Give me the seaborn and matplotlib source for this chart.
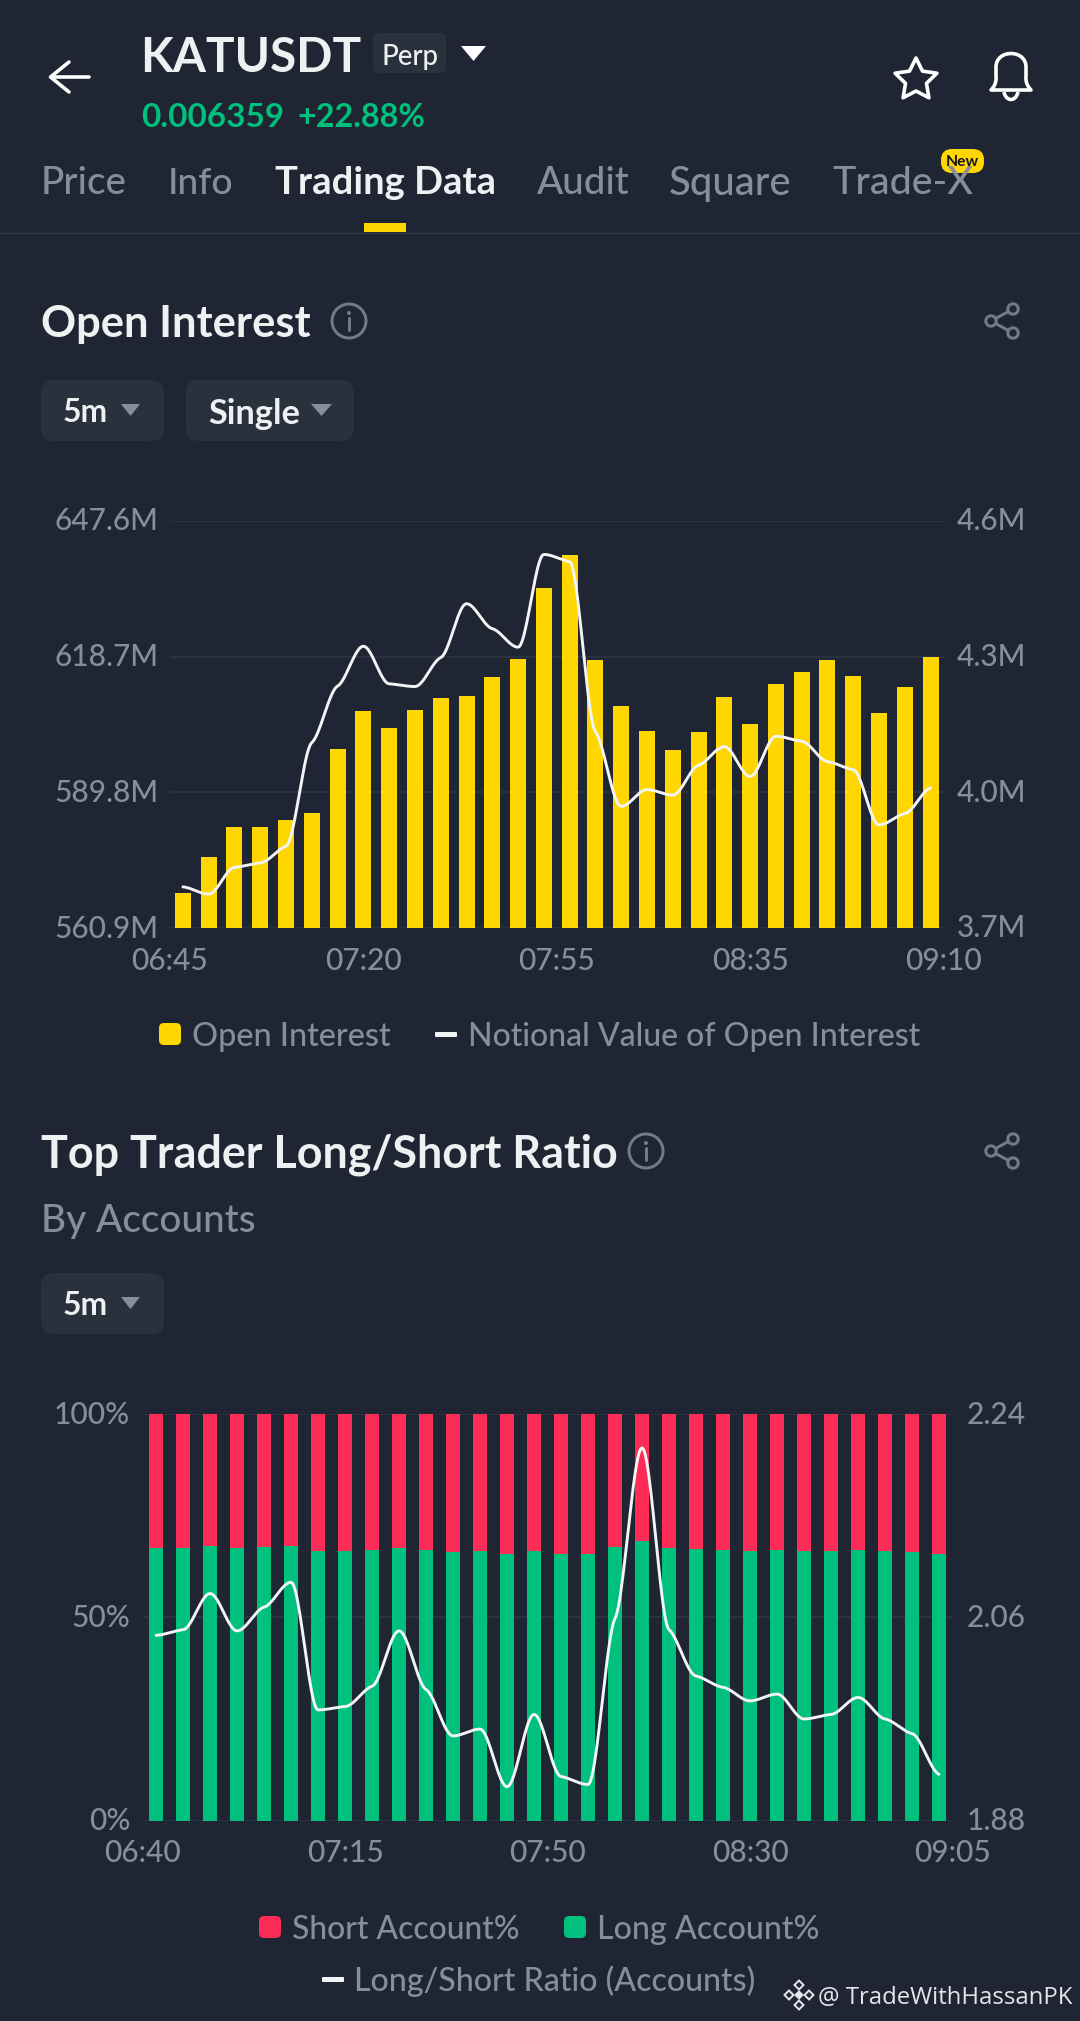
import numpy as np
import matplotlib
matplotlib.use("Agg")
import matplotlib.pyplot as plt
from matplotlib.patches import FancyBboxPatch, Polygon, Circle, PathPatch
from matplotlib.path import Path
from matplotlib.transforms import ScaledTranslation
import seaborn as sns

# ---------- data ----------
oi_times = ["06:45", "07:20", "07:55", "08:35", "09:10"]
oi_left_ticks = [560.9, 589.8, 618.7, 647.6]
oi_left_labels = ["560.9M", "589.8M", "618.7M", "647.6M"]
oi_right_ticks = [3.7, 4.0, 4.3, 4.6]
oi_right_labels = ["3.7M", "4.0M", "4.3M", "4.6M"]
open_interest = [568.3, 576.1, 582.4, 582.5, 583.9, 585.4, 599.1, 607.2, 603.4, 607.4,
                 609.9, 610.3, 614.3, 618.1, 633.3, 640.4, 618.0, 608.2, 602.9, 598.9,
                 602.7, 610.1, 604.3, 612.9, 615.5, 617.9, 614.6, 606.7, 612.3, 618.7]
notional = [3.791, 3.775, 3.834, 3.844, 3.881, 4.110, 4.235, 4.323, 4.240, 4.234,
            4.298, 4.417, 4.362, 4.321, 4.526, 4.510, 4.134, 3.969, 4.006, 3.994,
            4.060, 4.101, 4.035, 4.124, 4.113, 4.068, 4.050, 3.928, 3.953, 4.010]

ls_times = ["06:40", "07:15", "07:50", "08:30", "09:05"]
ls_left_ticks = [0, 50, 100]
ls_left_labels = ["0%", "50%", "100%"]
ls_right_ticks = [1.88, 2.06, 2.24]
ls_right_labels = ["1.88", "2.06", "2.24"]
long_pct = [67.0, 67.1, 67.5, 67.0, 67.3, 67.6, 66.4, 66.4, 66.6, 67.0,
            66.6, 66.0, 66.2, 65.6, 66.3, 65.6, 65.6, 67.3, 68.8, 67.1,
            66.7, 66.6, 66.4, 66.5, 66.3, 66.3, 66.5, 66.3, 66.0, 65.6]
short_pct = [33.0, 32.9, 32.5, 33.0, 32.7, 32.4, 33.6, 33.6, 33.4, 33.0,
             33.4, 34.0, 33.8, 34.4, 33.7, 34.4, 34.4, 32.7, 31.2, 32.9,
             33.3, 33.4, 33.6, 33.5, 33.7, 33.7, 33.5, 33.7, 34.0, 34.4]
ls_ratio = [2.044, 2.049, 2.081, 2.048, 2.069, 2.091, 1.978, 1.981, 1.999, 2.048,
            1.996, 1.955, 1.961, 1.910, 1.974, 1.919, 1.912, 2.059, 2.210, 2.049,
            2.008, 1.998, 1.986, 1.992, 1.970, 1.974, 1.989, 1.970, 1.957, 1.921]

# ---------- style ----------
BG = "#1f2532"
GRID = "#2f3744"
GRAY = "#868e9b"
WHITE = "#eef0f2"
YELLOW = "#ffd600"
RED = "#fd2c56"
GREEN = "#00c07e"
CHIP = "#29313d"
LIGHT = "#f2f4f6"
FONT = "Lato"
MED = 500
SEMI = "bold"

sns.set_theme(style="dark", rc={"figure.facecolor": BG, "axes.facecolor": BG})
plt.rcParams["font.family"] = [FONT, "DejaVu Sans"]

W, H = 1080, 2021
fig = plt.figure(figsize=(W / 100, H / 100), dpi=100, facecolor=BG)


def px_axes(x0, x1, y_top, y_bottom, **kw):
    return fig.add_axes([x0 / W, 1 - y_bottom / H, (x1 - x0) / W, (y_bottom - y_top) / H], **kw)


def smooth(y, k=0.3, n=24):
    """Draw-time curve through the values (flat at turning points, knees between them)."""
    y = np.asarray(y, float)
    d = np.diff(y)
    m = np.zeros_like(y)
    for i in range(1, len(y) - 1):
        if d[i - 1] * d[i] > 0:
            m[i] = k * 2 * d[i - 1] * d[i] / (d[i - 1] + d[i])
    m[0], m[-1] = d[0] * 0.3, d[-1] * 0.3
    xs, ys = [], []
    for i in range(len(y) - 1):
        t = np.linspace(0, 1, n, endpoint=False)
        h00 = 2 * t**3 - 3 * t**2 + 1
        h10 = t**3 - 2 * t**2 + t
        h01 = -2 * t**3 + 3 * t**2
        h11 = t**3 - t**2
        xs.append(i + t)
        ys.append(h00 * y[i] + h10 * m[i] + h01 * y[i + 1] + h11 * m[i + 1])
    xs.append([len(y) - 1])
    ys.append([y[-1]])
    return np.concatenate(xs), np.concatenate(ys)


def style_pair(ax, ax2, xticks, xlabels, lt, ll, rt, rl, ylim, ylim2, fs, lpad, rpad, xpad):
    ax.set_xlim(-0.5, 29.5)
    ax.set_ylim(*ylim)
    ax2.set_ylim(*ylim2)
    ax.set_yticks(lt, ll)
    ax2.set_yticks(rt, rl)
    ax.set_xticks(xticks, xlabels)
    ax.set_xlabel("")
    ax.set_ylabel("")
    ax2.set_xlabel("")
    ax2.set_ylabel("")
    ax.grid(True, axis="y", color=GRID, lw=1.1)
    ax.grid(False, axis="x")
    ax2.grid(False)
    ax.set_axisbelow(True)
    ax.patch.set_facecolor(BG)
    ax2.patch.set_alpha(0)
    for a in (ax, ax2):
        for s in a.spines.values():
            s.set_visible(False)
    ax.tick_params(axis="y", length=0, pad=lpad, labelsize=fs, labelcolor=GRAY)
    ax.tick_params(axis="x", length=0, pad=xpad, labelsize=fs, labelcolor=GRAY)
    ax2.tick_params(axis="y", length=0, pad=rpad, labelsize=fs, labelcolor=GRAY)
    up = ScaledTranslation(0, 0.02, fig.dpi_scale_trans)
    for a in (ax, ax2):
        for lab in a.get_yticklabels():
            lab.set_fontweight(MED)
            lab.set_transform(lab.get_transform() + up)
    for lab in ax.get_xticklabels():
        lab.set_fontweight(MED)


x_idx = np.arange(30)
tick_pos = [-0.5, 7, 14.5, 22, 29.5]

# ---------- Open interest chart ----------
ax1 = px_axes(170, 943.5, 521, 928)
sns.barplot(x=x_idx, y=open_interest, native_scale=True, color=YELLOW, saturation=1,
            width=0.62, ax=ax1, errorbar=None, linewidth=0)
ax1b = ax1.twinx()
sx, sy = smooth(notional)
sns.lineplot(x=sx, y=sy, ax=ax1b, color=LIGHT, lw=2.1, estimator=None, errorbar=None, sort=False)
style_pair(ax1, ax1b, tick_pos, oi_times, oi_left_ticks, oi_left_labels, oi_right_ticks, oi_right_labels,
           (560.9, 647.6), (3.7, 4.6), 21.5, 8.5, 9.5, 13.5)

# ---------- Long/short chart ----------
ax2 = px_axes(142.6, 952.5, 1414, 1820.6)
totals = np.array(long_pct) + np.array(short_pct)
sns.barplot(x=x_idx, y=totals, native_scale=True, color=RED, saturation=1,
            width=0.51, ax=ax2, errorbar=None, linewidth=0)
sns.barplot(x=x_idx, y=long_pct, native_scale=True, color=GREEN, saturation=1,
            width=0.51, ax=ax2, errorbar=None, linewidth=0)
ax2b = ax2.twinx()
sx, sy = smooth(ls_ratio)
sns.lineplot(x=sx, y=sy, ax=ax2b, color=LIGHT, lw=2.1, estimator=None, errorbar=None, sort=False)
style_pair(ax2, ax2b, tick_pos, ls_times, ls_left_ticks, ls_left_labels, ls_right_ticks, ls_right_labels,
           (0, 100), (1.88, 2.24), 21.5, 9, 10, 13)

# ---------- app chrome, in pixel coordinates ----------
ov = fig.add_axes([0, 0, 1, 1], zorder=20)
ov.set_xlim(0, W)
ov.set_ylim(H, 0)
ov.axis("off")
ov.patch.set_alpha(0)
renderer = fig.canvas.get_renderer()
LW = 0.72


def txt(x, y, s, width=None, size=20, color=GRAY, weight=MED, ha="left", family=None):
    t = ov.text(x, y, s, color=color, fontsize=size, fontweight=weight, ha=ha, va="center_baseline",
                family=family or [FONT, "DejaVu Sans"])
    if width:
        w = t.get_window_extent(renderer).width
        t.set_fontsize(size * width / w)
    return t


def rbox(x0, y0, x1, y1, r, color):
    ov.add_patch(FancyBboxPatch((x0 + r, y0 + r), x1 - x0 - 2 * r, y1 - y0 - 2 * r,
                                boxstyle=f"round,pad={r},rounding_size={r}", fc=color, ec="none"))


def tri(x0, x1, y0, y1, color):
    ov.add_patch(Polygon([(x0, y0), (x1, y0), ((x0 + x1) / 2, y1)], closed=True, fc=color, ec="none"))


def info_icon(cx, cy):
    ov.add_patch(Circle((cx, cy), 17, fc="none", ec="#707a88", lw=3 * LW))
    ov.plot([cx, cx], [cy - 3, cy + 9], color="#707a88", lw=3 * LW, solid_capstyle="round")
    ov.add_patch(Circle((cx, cy - 8), 2, fc="#707a88", ec="none"))


def share_icon(cx, cy):
    c = "#707a88"
    pts = [(cx + 10, cy - 12), (cx - 12, cy), (cx + 10, cy + 12)]
    ov.plot([pts[0][0], pts[1][0], pts[2][0]], [pts[0][1], pts[1][1], pts[2][1]], color=c, lw=3 * LW)
    for p in pts:
        ov.add_patch(Circle(p, 5.2, fc=BG, ec=c, lw=3 * LW, zorder=3))


# header
ov.plot([89, 51], [77, 77], color="white", lw=3.6 * LW, solid_capstyle="round")
ov.plot([69, 50.5, 69], [62, 77, 92], color="white", lw=3.6 * LW, solid_capstyle="round", solid_joinstyle="round")
txt(140, 54, "KATUSDT", width=221, size=32, color=WHITE, weight=SEMI)
rbox(373, 33, 446, 73, 6, CHIP)
txt(409.5, 54, "Perp", width=57, size=17, color=WHITE, ha="center")
tri(461, 486, 46, 61, "white")
txt(141, 115, "0.006359", width=143, size=21, color=GREEN, weight=SEMI)
txt(297.5, 115, "+22.88%", width=128, size=21, color=GREEN, weight=SEMI)

# star
ang = np.deg2rad(np.arange(0, 360, 36) - 90)
rad = np.where(np.arange(10) % 2 == 0, 22, 11)
ov.add_patch(Polygon(np.c_[916 + rad * np.cos(ang), 80 + rad * np.sin(ang)], closed=True, fc="none",
                     ec="white", lw=3.6 * LW, joinstyle="round"))
# bell
bell = Path([(991, 90), (997, 84), (996, 76), (996, 67), (996, 49), (1026, 49), (1026, 67), (1026, 76), (1025, 84),
             (1031, 90), (991, 90)],
            [Path.MOVETO, Path.CURVE3, Path.CURVE3, Path.LINETO, Path.CURVE4, Path.CURVE4, Path.CURVE4, Path.LINETO,
             Path.CURVE3, Path.CURVE3, Path.CLOSEPOLY])
ov.add_patch(PathPatch(bell, fc="none", ec="white", lw=3.6 * LW, joinstyle="round"))
clap = Path([(1004, 92), (1006, 102), (1016, 102), (1018, 92)], [Path.MOVETO, Path.CURVE4, Path.CURVE4, Path.CURVE4])
ov.add_patch(PathPatch(clap, fc="none", ec="white", lw=3.6 * LW))

# tabs
for x, s, w, c in [(41, "Price", 86, GRAY), (168, "Info", 66, GRAY), (275, "Trading Data", 221, WHITE),
                   (537, "Audit", 93, GRAY), (669, "Square", 123, GRAY), (832, "Trade-X", 141, GRAY)]:
    txt(x, 180, s, width=w, size=26, color=c, weight=SEMI if c == WHITE else MED)
rbox(941, 149, 984, 173, 11, YELLOW)
txt(962.5, 161, "New", width=33, size=11, color="#14171c", ha="center", weight="bold")
ov.plot([0, W], [232.5, 232.5], color="#2f3744", lw=1.3 * LW)
ov.add_patch(plt.Rectangle((364, 223), 42, 9, fc=YELLOW, ec="none"))

# open interest section
txt(41, 320, "Open Interest", width=270, size=29, color=WHITE, weight=SEMI)
info_icon(349, 321)
share_icon(1003, 321)
rbox(41, 380, 164, 441, 13, CHIP)
txt(63, 410.5, "5m", width=45, size=21, color=WHITE, weight=SEMI)
tri(121, 140, 404, 416, GRAY)
rbox(186, 380, 354, 441, 13, CHIP)
txt(208, 410.5, "Single", width=92, size=21, color=WHITE, weight=SEMI)
tri(311, 332, 404, 416, GRAY)

# legend 1
rbox(159, 1023, 181, 1045, 5, YELLOW)
txt(192, 1034, "Open Interest", width=199, size=21)
rbox(435, 1032, 457, 1037, 1, LIGHT)
txt(468, 1034, "Notional Value of Open Interest", width=453, size=21)

# long/short section
txt(41, 1150, "Top Trader Long/Short Ratio", width=578, size=29, color=WHITE, weight=SEMI)
info_icon(646, 1151)
share_icon(1003, 1151)
txt(41, 1218, "By Accounts", width=215, size=24)
rbox(41, 1273, 164, 1334, 13, CHIP)
txt(63, 1303, "5m", width=45, size=21, color=WHITE, weight=SEMI)
tri(121, 140, 1297, 1309, GRAY)

# legend 2
rbox(259, 1916, 281, 1938, 5, RED)
txt(292, 1927, "Short Account%", width=228, size=21)
rbox(564, 1916, 586, 1938, 5, GREEN)
txt(597, 1927, "Long Account%", width=223, size=21)
rbox(322, 1977, 344, 1982, 1, LIGHT)
txt(354, 1978, "Long/Short Ratio (Accounts)", width=401, size=21)

# watermark
wm = "#e3e6ea"
for dx, dy, r in [(0, -10, 4.5), (-10, 0, 4.5), (10, 0, 4.5), (0, 10, 4.5), (0, 0, 3.5)]:
    ov.add_patch(Polygon([(799 + dx, 1995 + dy - r), (799 + dx + r, 1995 + dy), (799 + dx, 1995 + dy + r),
                          (799 + dx - r, 1995 + dy)], closed=True, fc=wm if r < 4 else "none", ec=wm, lw=1.4))
txt(818, 1995, "@ TradeWithHassanPK", width=253, size=18, color=wm, weight="normal",
    family=["Open Sans", "DejaVu Sans"])

fig.savefig("out.png", dpi=100, facecolor=BG)
